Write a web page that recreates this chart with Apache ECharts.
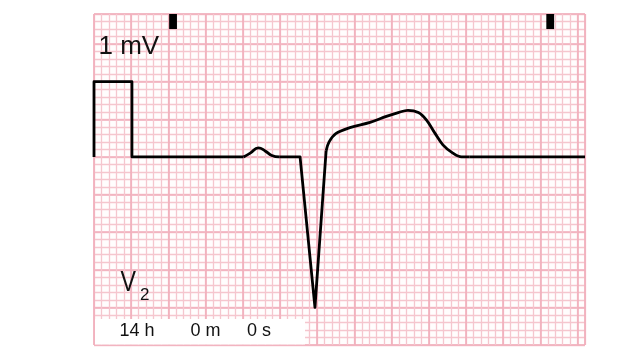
<!DOCTYPE html>
<html><head><meta charset="utf-8">
<script src="https://cdn.jsdelivr.net/npm/echarts@6/dist/echarts.min.js"></script>
<style>html,body{margin:0;padding:0;background:#fff}#c{width:640px;height:360px}</style>
</head><body><div id="c"></div>
<script>
// time in mm (25 mm/s paper), amplitude in mV
const calibrationPulse = [[0,0],[0,1.0],[5.1,1.0],[5.1,0],[20.1,0]];
const pWave = [[20.1,0],[21.0,0.05],[22.1,0.12],[23.0,0.08],[23.9,0.02],[24.9,0]];
const qrsComplex = [[24.9,0],[27.7,0],[29.7,-2.0],[31.2,0.08]];
const stTWave = [[31.2,0.08],[31.6,0.2],[32.5,0.31],[34.4,0.39],[37.1,0.46],[39.3,0.54],[40.9,0.59],[42.2,0.62],[43.6,0.59],[44.7,0.49],[45.8,0.32],[46.9,0.16],[48.1,0.06],[49.4,0],[50.5,0]];
const tailBaseline = [[50.5,0],[66,0]];
const timeMarks = [10.1, 60.8];
const timeLabels = ['14 h', '0 m', '0 s'];
const calibrationLabel = '1 mV';
const leadName = 'V';
const leadSub = '2';

const chart = echarts.init(document.getElementById('c'), null, {renderer: 'canvas'});
const FONT = '"Liberation Sans", Arial, Helvetica, sans-serif';
const MINOR = '#f5c6ce';
const MAJOR = '#f1aebb';
function gridAxis(min, max, interval, color, width) {
  return {type: 'value', min: min, max: max, interval: interval,
    axisLine: {show: false}, axisTick: {show: false}, axisLabel: {show: false},
    splitLine: {show: true, lineStyle: {color: color, width: width}}};
}
function line(data, smooth) {
  return {type: 'line', data: data, xAxisIndex: 0, yAxisIndex: 0, smooth: smooth,
    symbol: 'none', clip: false, z: 5,
    lineStyle: {color: '#000', width: 2.8, join: 'round', cap: 'butt'}};
}
const tail = line(tailBaseline, false);
tail.markArea = {silent: true, itemStyle: {color: '#000', opacity: 1},
  data: timeMarks.map(t => [{xAxis: t, yAxis: 1.7}, {xAxis: t + 1.05, yAxis: 1.9}])};

const timeX = [119.5, 190.5, 247];
const graphics = [
  {type: 'rect', z: 100, shape: {x: 95, y: 319, width: 210, height: 25.5}, style: {fill: '#fff'}},
  {type: 'text', z: 101, x: 98.5, y: 47, style: {text: calibrationLabel, font: '26px ' + FONT, fill: '#111', verticalAlign: 'middle'}},
  {type: 'text', z: 101, x: 120.5, y: 283, scaleX: 0.8, style: {text: leadName, font: '29px ' + FONT, fill: '#111', verticalAlign: 'middle'}},
  {type: 'text', z: 101, x: 140, y: 295, style: {text: leadSub, font: '17px ' + FONT, fill: '#111', verticalAlign: 'middle'}}
].concat(timeLabels.map((t, i) => ({type: 'text', z: 101, x: timeX[i], y: 331,
  style: {text: t, font: '18px ' + FONT, fill: '#111', verticalAlign: 'middle'}})));

chart.setOption({
  animation: false,
  backgroundColor: '#fff',
  grid: {left: 94, top: 14, width: 491, height: 331, show: true, borderColor: '#f2c2ca', borderWidth: 1, backgroundColor: '#fffdfd'},
  xAxis: [gridAxis(0, 66, 1, MINOR, 1.3), gridAxis(0, 66, 5, MAJOR, 1.6)],
  yAxis: [gridAxis(-2.5, 1.9, 0.1, MINOR, 1.3), gridAxis(-2.5, 1.9, 0.5, MAJOR, 1.6)],
  series: [line(calibrationPulse, false), line(pWave, 0.5), line(qrsComplex, false), line(stTWave, 0.35), tail],
  graphic: graphics
});
</script></body></html>
